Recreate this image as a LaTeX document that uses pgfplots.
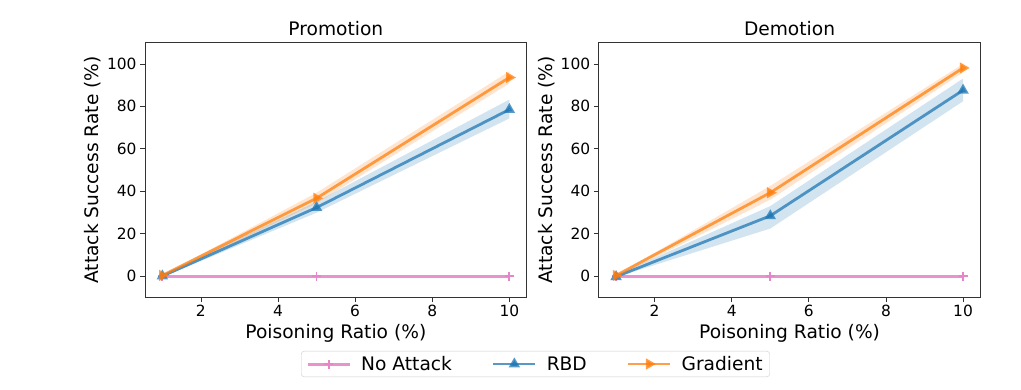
\documentclass[border=0pt]{standalone}
\usepackage{pgfplots}
\pgfplotsset{compat=1.18}
\usepackage{fontspec}
\setmainfont{DejaVu Sans}
\definecolor{tpink}{HTML}{E377C2}
\definecolor{lpink}{HTML}{E992CE}
\definecolor{tblue}{HTML}{1F77B4}
\definecolor{torange}{HTML}{FF7F0E}
\definecolor{fr}{HTML}{333333}
\pgfplotsset{
  myax/.style={
    scale only axis, width=381.7bp, height=254.6bp,
    xmin=0.55, xmax=10.45, ymin=-10, ymax=110,
    xtick={2,4,6,8,10}, ytick={0,20,40,60,80,100},
    axis line style={fr, line width=0.8bp},
    tick style={fr, line width=0.8bp},
    tick align=outside, major tick length=5bp,
    xtick pos=bottom, ytick pos=left,
    /pgf/number format/assume math mode=true,
    tick label style={font=\fontsize{15.5}{17}\selectfont},
    xticklabel style={yshift=1bp},
    label style={font=\fontsize{18.7}{21}\selectfont},
    title style={font=\fontsize{18.7}{21}\selectfont, yshift=-3bp},
    xlabel={Poisoning Ratio (\%)}, ylabel={Attack Success Rate (\%)},
    xlabel style={yshift=-1bp}, ylabel style={yshift=-1bp},
  },
}
\begin{document}
\begin{tikzpicture}[x=1bp,y=1bp]
\path (0,0) rectangle (1021,389);
\begin{axis}[myax, at={(145bp,91.7bp)}, anchor=south west, title={Promotion},
  legend columns=3,
  legend style={at={(1.023,-0.262)}, anchor=center, draw=black!20, rounded corners=3bp,
    font=\fontsize{18.7}{21}\selectfont, /tikz/every even column/.append style={column sep=38bp},
    inner xsep=5bp, inner ysep=3bp},
  legend image code/.code={\draw[#1, mark repeat=2, mark phase=2] plot coordinates {(0bp,0bp) (21bp,0bp) (42bp,0bp)}; \path (50bp,0bp);}]
\addplot[fill=tblue, fill opacity=0.2, draw=none, forget plot] coordinates {(1,-0.5) (5,29.9) (10,74.3) (10,83.2) (5,35.1) (1,0.5)} -- cycle;
\addplot[fill=torange, fill opacity=0.2, draw=none, forget plot] coordinates {(1,-0.5) (5,34.3) (10,90.8) (10,96.5) (5,39.3) (1,0.5)} -- cycle;
\addplot[color=lpink, line width=3bp, mark=+, mark size=4.5bp, mark options={solid, line width=1.8bp, draw=tpink!90!white}] coordinates {(1,0) (5,0) (10,0)};
\addlegendentry{No Attack}
\addplot[color=tblue, line width=2.8bp, opacity=0.75, mark=triangle*, mark size=3.8bp] coordinates {(1,0) (5,32.3) (10,78.5)};
\addlegendentry{RBD}
\addplot[color=torange, line width=2.8bp, opacity=0.75, mark=triangle*, mark size=3.8bp, mark options={rotate=-90}] coordinates {(1,0.3) (5,36.7) (10,93.6)};
\addlegendentry{Gradient}
\end{axis}
\begin{axis}[myax, at={(598.7bp,91.7bp)}, anchor=south west, title={Demotion}]
\addplot[fill=tblue, fill opacity=0.2, draw=none] coordinates {(1,-0.5) (5,22.4) (10,82.4) (10,93.1) (5,33) (1,0.5)} -- cycle;
\addplot[fill=torange, fill opacity=0.2, draw=none] coordinates {(1,-0.5) (5,36) (10,96) (10,100) (5,42.5) (1,0.5)} -- cycle;
\addplot[color=lpink, line width=3bp, mark=+, mark size=4.5bp, mark options={solid, line width=1.8bp, draw=tpink!90!white}] coordinates {(1,0) (5,0) (10,0)};
\addplot[color=tblue, line width=2.8bp, opacity=0.75, mark=triangle*, mark size=3.8bp] coordinates {(1,-0.3) (5,28.4) (10,87.6)};
\addplot[color=torange, line width=2.8bp, opacity=0.75, mark=triangle*, mark size=3.8bp, mark options={rotate=-90}] coordinates {(1,0.3) (5,39.3) (10,98.1)};
\end{axis}
\end{tikzpicture}
\end{document}
